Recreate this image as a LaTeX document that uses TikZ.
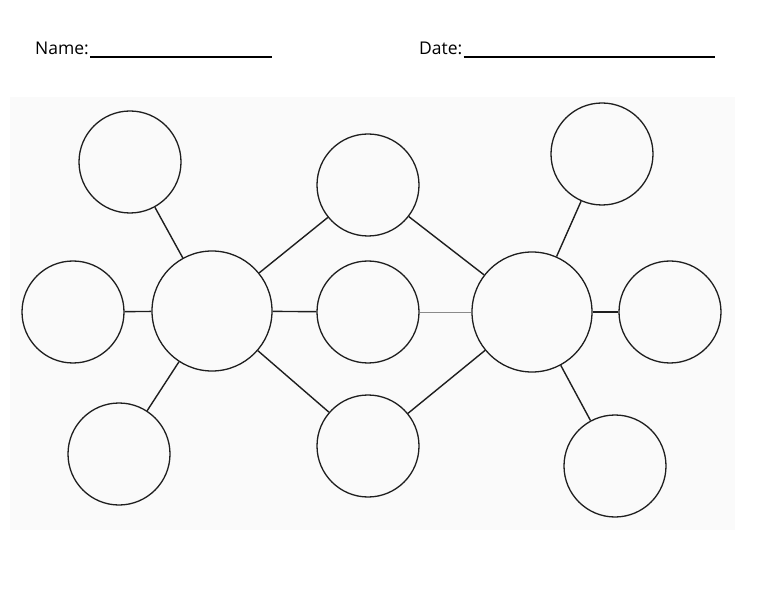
\documentclass[tikz,border=0pt]{standalone}
\usepackage{fontspec}
\setmainfont{Open Sans}
\usepackage{tikz}
\usepackage{xcolor}
\usetikzlibrary{
  positioning, calc,
}
\definecolor{cPaper}   {HTML}{FAFAFA}
\definecolor{cInk}     {HTML}{1E1E1E}
\definecolor{cFaint}   {HTML}{8A8A8A}

\tikzset{
  bubble/.style={circle, draw=cInk, line width=1.3pt, inner sep=0pt, minimum size=102pt},
  hub/.style={bubble, minimum size=120pt},
  link/.style={draw=cInk, line width=1.4pt},
}

\begin{document}
\begin{tikzpicture}[x=1pt, y=-1pt]
        \useasboundingbox (0,0) rectangle (768,593);
        \fill[cPaper] (10,97) rectangle (735,530);
        % header
        \node[font=\fontsize{17.5}{20}\selectfont, anchor=base west, inner sep=0pt] (name) at (35,55) {Name:};
        \node[font=\fontsize{17.5}{20}\selectfont, anchor=base west, inner sep=0pt] (date) at (419,55) {Date:};
        \draw[line width=1.5pt] (name.base east) ++(1,2) -- (272,57);
        \draw[line width=1.5pt] (date.base east) ++(1,2) -- (715,57);
        % hubs
        \node[hub] (hubL) at (212,311) {};
        \node[hub] (hubR) at (532,312) {};
        % middle column
        \node[bubble] (midT) at (368,185) {};
        \node[bubble] (midC) at (368,312) {};
        \node[bubble] (midB) at (368,446) {};
        % left side
        \node[bubble] (leftT) at (130,162) {};
        \node[bubble] (leftC) at (73,312) {};
        \node[bubble] (leftB) at (119,454) {};
        % right side
        \node[bubble] (rightT) at (602,154) {};
        \node[bubble] (rightC) at (670,312) {};
        \node[bubble] (rightB) at (615,466) {};
        \foreach \n in {leftT, leftC, leftB, midT, midC, midB}
          \draw[link] (hubL) -- (\n);
        \foreach \n in {rightT, rightC, rightB, midT, midB}
          \draw[link] (hubR) -- (\n);
        \draw[draw=cFaint, line width=0.9pt] (hubR) -- (midC);
      \end{tikzpicture}
\end{document}
